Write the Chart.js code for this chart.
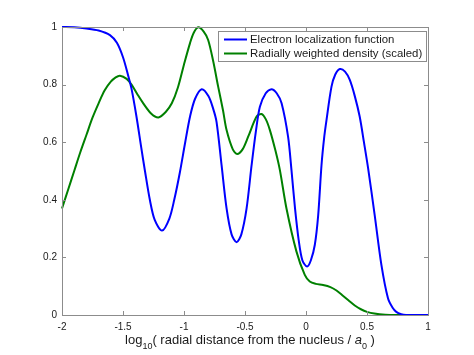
<!DOCTYPE html>
<html>
<head>
<meta charset="utf-8">
<script src="https://cdn.jsdelivr.net/npm/chart.js@4.4.1/dist/chart.umd.min.js"></script>
<style>
  html, body { margin: 0; padding: 0; background: #fff; }
  #wrap { width: 474px; height: 355px; position: relative; }
</style>
</head>
<body>
<div id="wrap"><canvas id="c" width="474" height="355"></canvas></div>
<script>
// ---- data ----
const seriesNames = ['Electron localization function', 'Radially weighted density (scaled)'];

const elfX = [-2, -1.9, -1.8, -1.7, -1.607, -1.55, -1.5, -1.46, -1.43, -1.39, -1.35, -1.32, -1.28, -1.24, -1.18,
  -1.12, -1.08, -1.034, -0.99, -0.95, -0.91, -0.855, -0.8, -0.76, -0.733, -0.692, -0.651, -0.61, -0.569,
  -0.53, -0.487, -0.446, -0.41, -0.378, -0.33, -0.283, -0.24, -0.2, -0.147, -0.119, -0.09, -0.06, -0.03,
  0.009, 0.04, 0.072, 0.1, 0.127, 0.15, 0.168, 0.209, 0.24, 0.277, 0.32, 0.359, 0.4, 0.44, 0.475, 0.509,
  0.563, 0.618, 0.672, 0.71, 0.74, 0.78, 0.82, 0.9, 1.0];
const elfY = [1.0, 0.999, 0.995, 0.988, 0.972, 0.945, 0.895, 0.835, 0.785, 0.69, 0.58, 0.50, 0.40, 0.33, 0.293,
  0.335, 0.40, 0.495, 0.60, 0.69, 0.75, 0.784, 0.76, 0.715, 0.67, 0.52, 0.37, 0.28, 0.253,
  0.28, 0.37, 0.52, 0.64, 0.723, 0.77, 0.784, 0.77, 0.735, 0.619, 0.503, 0.37, 0.26, 0.19,
  0.168, 0.19, 0.243, 0.347, 0.52, 0.62, 0.677, 0.793, 0.835, 0.854, 0.845, 0.816, 0.76, 0.689, 0.60, 0.51,
  0.347, 0.174, 0.058, 0.025, 0.011, 0.003, 0.0, 0.0, 0.0];

const rhoX = [-2, -1.95, -1.9, -1.85, -1.8, -1.75, -1.7, -1.65, -1.6, -1.56, -1.525, -1.47, -1.43, -1.38,
  -1.334, -1.27, -1.21, -1.15, -1.1, -1.05, -1.0, -0.95, -0.92, -0.884, -0.84, -0.802, -0.76, -0.72, -0.68,
  -0.651, -0.6, -0.564, -0.52, -0.474, -0.405, -0.365, -0.33, -0.296, -0.25, -0.214, -0.16, -0.078, -0.01,
  0.031, 0.08, 0.14, 0.2, 0.25, 0.3, 0.35, 0.4, 0.45, 0.5, 0.56, 0.65, 0.75, 1.0];
const rhoY = [0.37, 0.435, 0.5, 0.565, 0.625, 0.685, 0.735, 0.78, 0.81, 0.825, 0.831, 0.82, 0.80, 0.765,
  0.735, 0.70, 0.686, 0.705, 0.735, 0.79, 0.87, 0.945, 0.98, 0.999, 0.985, 0.955, 0.88, 0.793, 0.71,
  0.642, 0.575, 0.559, 0.575, 0.619, 0.689, 0.698, 0.68, 0.642, 0.57, 0.503, 0.37, 0.22, 0.139,
  0.116, 0.108, 0.104, 0.097, 0.085, 0.068, 0.05, 0.033, 0.02, 0.011, 0.005, 0.001, 0.0, 0.0];

const xTicks = [-2, -1.5, -1, -0.5, 0, 0.5, 1];
const yTicks = [0, 0.2, 0.4, 0.6, 0.8, 1];

const seriesColors = ['#0000ff', '#008000'];
const frameColor = '#8c8c8c';
const textColor = '#1a1a1a';
const FONT = '"Liberation Sans", Arial, sans-serif';

function pts(xs, ys) { return xs.map((x, i) => ({ x: x, y: ys[i] })); }

// frame with inward ticks (MATLAB style), legend, subscripted axis title
const framePlugin = {
  id: 'frame',
  afterDatasetsDraw(chart) {
    const { ctx, chartArea: a, scales } = chart;
    ctx.save();
    ctx.strokeStyle = frameColor;
    ctx.lineWidth = 1;
    ctx.strokeRect(Math.round(a.left) + 0.5, Math.round(a.top) + 0.5,
                   Math.round(a.right - a.left), Math.round(a.bottom - a.top));
    const tl = 4;
    ctx.beginPath();
    xTicks.forEach(v => {
      const px = Math.round(scales.x.getPixelForValue(v)) + 0.5;
      ctx.moveTo(px, a.bottom); ctx.lineTo(px, a.bottom - tl);
      ctx.moveTo(px, a.top); ctx.lineTo(px, a.top + tl);
    });
    yTicks.forEach(v => {
      const py = Math.round(scales.y.getPixelForValue(v)) + 0.5;
      ctx.moveTo(a.left, py); ctx.lineTo(a.left + tl, py);
      ctx.moveTo(a.right, py); ctx.lineTo(a.right - tl, py);
    });
    ctx.stroke();

    // legend
    const lx = 218, ly = 31, lw = 208, lh = 30;
    ctx.fillStyle = '#ffffff';
    ctx.fillRect(lx, ly, lw, lh);
    ctx.strokeRect(lx + 0.5, ly + 0.5, lw, lh);
    ctx.font = '11.4px ' + FONT;
    ctx.textBaseline = 'middle';
    ctx.textAlign = 'left';
    seriesNames.forEach((name, i) => {
      const yy = ly + 8.5 + i * 14;
      ctx.strokeStyle = seriesColors[i];
      ctx.lineWidth = 2;
      ctx.beginPath();
      ctx.moveTo(lx + 6, yy); ctx.lineTo(lx + 29, yy);
      ctx.stroke();
      ctx.fillStyle = textColor;
      ctx.fillText(name, lx + 32, yy + 0.5);
      ctx.strokeStyle = frameColor;
      ctx.lineWidth = 1;
    });

    // x-axis title with subscripts
    const big = '13px ' + FONT, small = '9px ' + FONT, ital = 'italic 13px ' + FONT;
    const parts = [
      { t: 'log', f: big, dy: 0 },
      { t: '10', f: small, dy: 5 },
      { t: '( radial distance from the nucleus / ', f: big, dy: 0 },
      { t: 'a', f: ital, dy: 0 },
      { t: '0', f: small, dy: 5 },
      { t: ' )', f: big, dy: 0 }
    ];
    let total = 0;
    parts.forEach(p => { ctx.font = p.f; p.w = ctx.measureText(p.t).width; total += p.w; });
    let x = 250 - total / 2;
    const base = 344;
    ctx.fillStyle = textColor;
    ctx.textBaseline = 'alphabetic';
    parts.forEach(p => { ctx.font = p.f; ctx.fillText(p.t, x, base + p.dy); x += p.w; });
    ctx.restore();
  }
};

const lineClip = { left: 3, top: 3, right: 3, bottom: 0 };

new Chart(document.getElementById('c'), {
  type: 'scatter',
  data: {
    datasets: [
      { label: seriesNames[0], data: pts(elfX, elfY), showLine: true, borderColor: seriesColors[0],
        borderWidth: 2, pointRadius: 0, tension: 0.3, clip: lineClip },
      { label: seriesNames[1], data: pts(rhoX, rhoY), showLine: true, borderColor: seriesColors[1],
        borderWidth: 2, pointRadius: 0, tension: 0.3, clip: lineClip }
    ]
  },
  options: {
    responsive: false,
    animation: false,
    events: [],
    layout: { padding: { top: 27, right: 46, left: 0, bottom: 0 } },
    plugins: { legend: { display: false }, tooltip: { enabled: false }, title: { display: false } },
    scales: {
      x: {
        type: 'linear', min: -2, max: 1,
        afterBuildTicks: s => { s.ticks = xTicks.map(v => ({ value: v })); },
        afterFit: s => { s.height = 40; },
        grid: { display: false, drawTicks: false },
        border: { display: false },
        ticks: { padding: 6, color: textColor, font: { family: FONT, size: 10 },
                 maxRotation: 0, autoSkip: false, callback: v => String(v) }
      },
      y: {
        type: 'linear', min: 0, max: 1,
        afterBuildTicks: s => { s.ticks = yTicks.map(v => ({ value: v })); },
        afterFit: s => { s.width = 62; },
        grid: { display: false, drawTicks: false },
        border: { display: false },
        ticks: { padding: 5, color: textColor, font: { family: FONT, size: 10 },
                 autoSkip: false, callback: v => String(v) }
      }
    }
  },
  plugins: [framePlugin]
});
</script>
</body>
</html>
